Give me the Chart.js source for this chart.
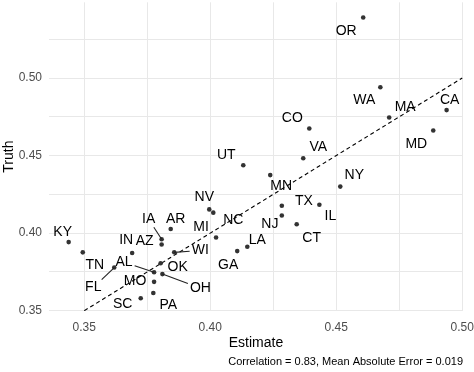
<!DOCTYPE html>
<html>
<head>
<meta charset="utf-8">
<script src="https://cdn.jsdelivr.net/npm/chart.js@4"></script>
<style>
html,body{margin:0;padding:0;background:#fff;}
#wrap{width:474px;height:372px;}
</style>
</head>
<body>
<div id="wrap"><canvas id="c" width="474" height="372"></canvas></div>
<script>
// ---- data ----
const states = ['OR','WA','MA','CA','MD','CO','VA','UT','MN','NY','TX','NJ','CT','IL','LA','GA','KY','TN','FL','IN','AL','MO','PA','SC','OH','OK','WI','IA','AZ','AR','NV','NC','MI'];
const estimate = [0.4607,0.4675,0.4710,0.4938,0.4885,0.4393,0.4369,0.4131,0.4238,0.4516,0.4284,0.4284,0.4343,0.4433,0.4147,0.4107,0.3438,0.3494,0.3619,0.3690,0.3777,0.3777,0.3774,0.3724,0.3810,0.3803,0.3857,0.3807,0.3807,0.3843,0.3996,0.4012,0.4023];
const truth = [0.5390,0.4940,0.4745,0.4793,0.4662,0.4674,0.4483,0.4438,0.4374,0.4300,0.4176,0.4114,0.4057,0.4183,0.3912,0.3884,0.3942,0.3876,0.3778,0.3872,0.3748,0.3686,0.3614,0.3580,0.3736,0.3806,0.3876,0.3961,0.3927,0.4027,0.4153,0.4132,0.3972];
const identityLine = [0.35, 0.50];
const xTicks = [0.35,0.375,0.40,0.425,0.45,0.475,0.50];
const xTickLabels = ['0.35','','0.40','','0.45','','0.50'];
const yTicks = [0.35,0.375,0.40,0.425,0.45,0.475,0.50,0.525];
const yTickLabels = ['0.35','','0.40','','0.45','','0.50',''];
const xTitle = 'Estimate';
const yTitle = 'Truth';
const caption = 'Correlation = 0.83, Mean Absolute Error = 0.019';

// ---- label layout (pixel offsets from each point, leader flag) ----
const labelLayout = {
  OR:[-17,14], WA:[-16,13], MA:[16,-10], CA:[3,-10], MD:[-17,14], CO:[-17,-10],
  VA:[15,-11], UT:[-17,-10], MN:[11,11], NY:[14,-11], TX:[22,-5], NJ:[-12,9],
  CT:[15,14], IL:[11,11], LA:[10,-7], GA:[-9,14], KY:[-6,-10], TN:[12,13],
  FL:[-21,20,1], IN:[-6,-13], AL:[-30,-10,1], MO:[-19,-1], PA:[15,12], SC:[-18,6],
  OH:[38,14,1], OK:[17,4], WI:[26,-2,1], IA:[-13,-20,1], AZ:[-17,-3], AR:[5,-10],
  NV:[-5,-12], NC:[20,7], MI:[-15,-10]
};

const FONT = '"Liberation Sans", Arial, Helvetica, sans-serif';

const labelPlugin = {
  id: 'pointLabels',
  afterDatasetsDraw(chart) {
    const meta = chart.getDatasetMeta(0);
    const ctx = chart.ctx;
    ctx.save();
    ctx.font = '14px ' + FONT;
    ctx.textAlign = 'center';
    ctx.textBaseline = 'middle';
    meta.data.forEach((el, i) => {
      const name = states[i];
      const lay = labelLayout[name] || [0,-10];
      const lx = el.x + lay[0], ly = el.y + lay[1];
      if (lay[2]) {
        const w = ctx.measureText(name).width / 2 + 2, h = 8;
        const dx = el.x - lx, dy = el.y - ly;
        const t = Math.min(dx !== 0 ? w / Math.abs(dx) : Infinity, dy !== 0 ? h / Math.abs(dy) : Infinity);
        const sx = lx + dx * t, sy = ly + dy * t;
        ctx.strokeStyle = '#222';
        ctx.lineWidth = 1.1;
        ctx.beginPath();
        ctx.moveTo(sx, sy);
        ctx.lineTo(el.x, el.y);
        ctx.stroke();
      }
      ctx.fillStyle = '#000';
      ctx.fillText(name, lx, ly);
    });
    ctx.restore();
  }
};

const points = estimate.map((x, i) => ({x: x, y: truth[i]}));

new Chart(document.getElementById('c'), {
  type: 'scatter',
  data: {
    datasets: [
      {
        data: points,
        pointRadius: 2.3,
        pointHoverRadius: 2.3,
        pointBackgroundColor: '#333',
        pointBorderColor: '#333',
        pointBorderWidth: 0,
        showLine: false
      },
      {
        data: identityLine.map(v => ({x: v, y: v})),
        showLine: true,
        borderColor: '#000',
        borderWidth: 1.1,
        borderDash: [4, 3],
        pointRadius: 0,
        fill: false
      }
    ]
  },
  options: {
    responsive: false,
    animation: false,
    devicePixelRatio: 1,
    layout: {padding: {left: 0, right: 11, top: 0, bottom: 0}},
    plugins: {
      legend: {display: false},
      tooltip: {enabled: false},
      subtitle: {
        display: true,
        text: caption,
        position: 'bottom',
        align: 'end',
        color: '#000',
        font: {family: FONT, size: 11},
        padding: {top: 0, bottom: 3}
      }
    },
    scales: {
      x: {
        type: 'linear',
        min: 0.336,
        max: 0.5003,
        afterBuildTicks: s => { s.ticks = xTicks.map(v => ({value: v})); },
        afterFit: s => { s.height = 44.8; s.paddingLeft = 0; s.paddingRight = 0; },
        grid: {color: '#e8e8e8', lineWidth: 1, drawTicks: false},
        border: {display: false},
        ticks: {
          color: '#4d4d4d',
          font: {family: FONT, size: 12},
          padding: 9,
          maxRotation: 0,
          autoSkip: false,
          callback: (v, i) => xTickLabels[i]
        },
        title: {
          display: true,
          text: xTitle,
          color: '#000',
          font: {family: FONT, size: 14},
          padding: {top: 0, bottom: 4}
        }
      },
      y: {
        type: 'linear',
        min: 0.3498,
        max: 0.5488,
        afterBuildTicks: s => { s.ticks = yTicks.map(v => ({value: v})); },
        afterFit: s => { s.width = 49; s.paddingTop = 0; s.paddingBottom = 0; },
        grid: {color: '#e8e8e8', lineWidth: 1, drawTicks: false},
        border: {display: false},
        ticks: {
          color: '#4d4d4d',
          font: {family: FONT, size: 12},
          padding: 7,
          autoSkip: false,
          callback: (v, i) => yTickLabels[i]
        },
        title: {
          display: true,
          text: yTitle,
          color: '#000',
          font: {family: FONT, size: 14},
          padding: {top: 1, bottom: 0}
        }
      }
    }
  },
  plugins: [labelPlugin]
});
</script>
</body>
</html>
